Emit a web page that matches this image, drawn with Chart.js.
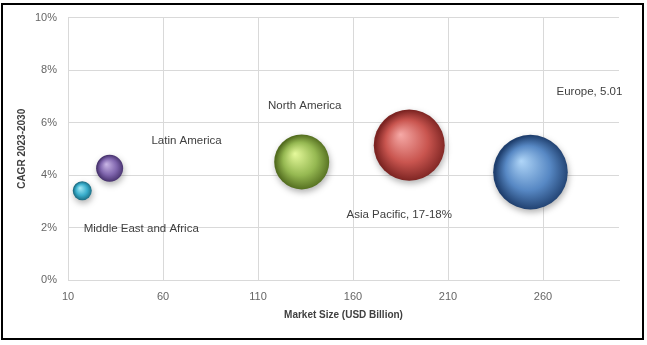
<!DOCTYPE html>
<html>
<head>
<meta charset="utf-8">
<title>Regional market size vs CAGR</title>
<script src="https://cdn.jsdelivr.net/npm/chart.js@4"></script>
<style>
  html, body { margin: 0; padding: 0; background: #fff; }
  #wrap { position: relative; width: 647px; height: 345px; }
</style>
</head>
<body>
<div id="wrap"><canvas id="bubbleChart"></canvas></div>
<script>
"use strict";

// Regions, market size (USD bn), CAGR 2023-2030 (%) and relative bubble size
const regions = ["Middle East and Africa", "Latin America", "North America", "Asia Pacific", "Europe"];
const marketSize = [17.5, 31.9, 133, 189.6, 253.4];
const cagr = [3.4, 4.26, 4.5, 5.14, 4.11];
const bubbleSize = [6.5, 13.1, 54.4, 90.6, 100];
const pointLabels = ["Middle East and Africa", "Latin America", "North America", "Asia Pacific, 17-18%", "Europe, 5.01"];

const xTicks = [10, 60, 110, 160, 210, 260];
const yTicks = [0, 2, 4, 6, 8, 10];

// sphere colours: highlight, base, shade
const sphereColors = [
  ["#a8ecf8", "#38adcb", "#1a6a80"],
  ["#c9b6e6", "#8066ae", "#46316d"],
  ["#e6fa9c", "#96b952", "#536d1f"],
  ["#f6aaa7", "#c9554f", "#7c2422"],
  ["#b0d6f8", "#5788c4", "#1f3f6e"]
];

// where each label sits relative to its bubble centre
const labelOffsets = [[59, 38], [77, -27], [3, -56], [-10, 70], [59, -80]];

const MAX_RADIUS = 37.3;
const maxSize = Math.max(...bubbleSize);
const radiusFor = s => MAX_RADIUS * Math.sqrt(s / maxSize);

const gridColor = "#d9d9d9";
const tickColor = "#666666";
const textColor = "#404040";
const baseFont = "'Liberation Sans', Arial, sans-serif";

function sphereFill(ctx) {
  const chart = ctx.chart;
  const i = ctx.dataIndex;
  const colors = sphereColors[i] || sphereColors[0];
  const raw = ctx.raw;
  if (ctx.type !== "data" || !raw || !chart.scales.x || !chart.chartArea) return colors[1];
  const cx = chart.scales.x.getPixelForValue(raw.x);
  const cy = chart.scales.y.getPixelForValue(raw.y);
  const r = raw.r;
  if (![cx, cy, r].every(Number.isFinite)) return colors[1];
  const g = chart.ctx.createRadialGradient(cx - r * 0.25, cy - r * 0.3, 0, cx + r * 0.05, cy + r * 0.02, r);
  g.addColorStop(0, colors[0]);
  g.addColorStop(0.6, colors[1]);
  g.addColorStop(1, colors[2]);
  return g;
}

// soft drop shadow under the spheres
const sphereShadow = {
  id: "sphereShadow",
  beforeDatasetsDraw(chart) {
    const c = chart.ctx;
    c.save();
    c.shadowColor = "rgba(0,0,0,0.3)";
    c.shadowBlur = 6;
    c.shadowOffsetX = 1;
    c.shadowOffsetY = 3;
  },
  afterDatasetsDraw(chart) {
    chart.ctx.restore();
  }
};

// region labels next to the bubbles
const regionLabels = {
  id: "regionLabels",
  afterDatasetsDraw(chart) {
    const c = chart.ctx;
    const meta = chart.getDatasetMeta(0);
    c.save();
    c.font = "11.5px " + baseFont;
    c.fillStyle = textColor;
    c.textAlign = "center";
    c.textBaseline = "middle";
    meta.data.forEach((pt, i) => {
      const [dx, dy] = labelOffsets[i];
      c.fillText(pointLabels[i], pt.x + dx, pt.y + dy);
    });
    c.restore();
  }
};

// white background and black frame
const frame = {
  id: "frame",
  beforeDraw(chart) {
    const c = chart.ctx;
    c.save();
    c.fillStyle = "#fff";
    c.fillRect(0, 0, chart.width, chart.height);
    c.restore();
  },
  afterDraw(chart) {
    const c = chart.ctx;
    c.save();
    c.strokeStyle = "#000";
    c.lineWidth = 2;
    c.strokeRect(2, 4, 641, 335);
    c.restore();
  }
};

const points = regions.map((name, i) => ({
  x: marketSize[i],
  y: cagr[i],
  r: radiusFor(bubbleSize[i])
}));

new Chart(document.getElementById("bubbleChart"), {
  type: "bubble",
  data: {
    datasets: [{
      label: "Regions",
      data: points,
      backgroundColor: sphereFill,
      borderWidth: 0,
      hoverBorderWidth: 0
    }]
  },
  options: {
    responsive: true,
    maintainAspectRatio: false,
    animation: false,
    events: [],
    layout: { autoPadding: false, padding: { left: 0, top: 17, right: 28, bottom: 0 } },
    plugins: {
      legend: { display: false },
      tooltip: { enabled: false }
    },
    scales: {
      x: {
        type: "linear",
        min: 10,
        max: 300,
        afterBuildTicks: s => { s.ticks = xTicks.map(v => ({ value: v })); },
        afterFit: s => { s.height = 65; },
        grid: { color: gridColor, drawTicks: false },
        border: { color: gridColor },
        ticks: { padding: 10, color: tickColor, font: { family: baseFont, size: 11 } },
        title: {
          display: true,
          text: "Market Size (USD Billion)",
          color: textColor,
          font: { family: baseFont, size: 10, weight: "bold" },
          padding: { top: 0, bottom: 24 }
        }
      },
      y: {
        type: "linear",
        min: 0,
        max: 10,
        afterBuildTicks: s => { s.ticks = yTicks.map(v => ({ value: v })); },
        afterFit: s => { s.width = 68; },
        grid: { color: gridColor, drawTicks: false },
        border: { color: gridColor },
        ticks: {
          padding: 11,
          color: tickColor,
          font: { family: baseFont, size: 11 },
          callback: v => v + "%"
        },
        title: {
          display: true,
          text: "CAGR 2023-2030",
          color: textColor,
          font: { family: baseFont, size: 10, weight: "bold" },
          padding: { top: 16, bottom: 0 }
        }
      }
    }
  },
  plugins: [frame, sphereShadow, regionLabels]
});
</script>
</body>
</html>
